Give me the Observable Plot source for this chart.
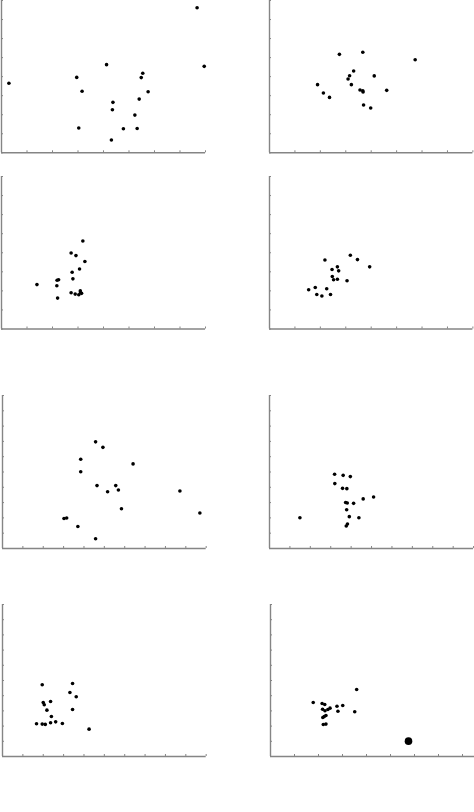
<!DOCTYPE html>
<html>
<head>
<meta charset="utf-8">
<script src="https://cdn.jsdelivr.net/npm/d3@7"></script>
<script src="https://cdn.jsdelivr.net/npm/@observablehq/plot@0.6"></script>
<style>
  html, body { margin: 0; padding: 0; background: #fff; }
  #chart { position: relative; width: 474px; height: 812px; overflow: hidden; background: #fff; }
  #chart svg { position: absolute; overflow: visible; }
</style>
</head>
<body>
<div id="chart"></div>
<script>
// ---- Data (x, y pairs per panel, arbitrary units) ----
const panel1 = [[7.67,7.62],[0.29,3.65],[4.12,4.63],[7.95,4.54],[2.95,3.96],[5.54,4.18],[5.48,3.95],[3.16,3.23],[5.75,3.21],[5.40,2.82],[4.37,2.65],[4.35,2.26],[5.23,1.98],[3.03,1.30],[4.78,1.26],[5.32,1.28],[4.31,0.67]];
const panel2 = [[2.75,5.17],[3.67,5.28],[5.73,4.89],[3.31,4.30],[3.15,4.05],[3.09,3.88],[4.12,4.04],[1.89,3.58],[3.22,3.58],[2.12,3.14],[2.36,2.91],[3.56,3.30],[3.67,3.26],[3.68,3.19],[4.61,3.28],[3.70,2.51],[3.98,2.35]];
const panel3 = [[3.19,4.62],[2.73,3.99],[2.92,3.85],[3.27,3.54],[2.77,2.98],[3.06,3.15],[2.80,2.63],[1.39,2.33],[2.18,2.56],[2.24,2.58],[2.17,2.27],[2.20,1.62],[2.73,1.90],[2.89,1.83],[3.03,1.80],[3.09,2.00],[3.10,1.90],[3.14,1.87]];
const panel4 = [[2.18,3.62],[3.18,3.87],[3.46,3.64],[3.94,3.26],[2.67,3.26],[2.46,3.12],[2.72,3.05],[2.47,2.75],[2.52,2.58],[2.67,2.61],[3.05,2.53],[1.54,2.06],[1.80,2.18],[2.25,2.11],[1.86,1.81],[2.06,1.73],[2.40,1.81]];
const panel5 = [[4.57,6.97],[4.93,6.61],[3.84,5.83],[6.41,5.53],[3.84,5.02],[4.64,4.11],[5.56,4.11],[5.16,3.71],[5.69,3.82],[8.71,3.76],[5.84,2.60],[9.69,2.32],[3.02,1.96],[3.15,1.99],[3.70,1.44],[4.57,0.64]];
const panel6 = [[3.19,4.85],[3.61,4.78],[3.96,4.70],[3.20,4.24],[3.58,3.93],[3.79,3.91],[3.73,3.01],[3.81,2.97],[4.12,2.95],[4.59,3.24],[5.10,3.37],[3.78,2.53],[3.91,2.08],[4.38,2.01],[1.49,2.01],[3.82,1.60],[3.76,1.47]];
const panel7 = [[1.95,4.72],[3.44,4.80],[3.31,4.21],[3.62,3.93],[2.00,3.55],[2.05,3.40],[2.36,3.62],[2.18,3.05],[3.44,3.09],[2.40,2.63],[1.67,2.15],[1.95,2.13],[2.10,2.11],[2.36,2.22],[2.61,2.28],[2.94,2.17],[4.25,1.80]];
const panel8 = [[1.78,3.55],[2.15,3.49],[2.26,3.42],[2.77,3.31],[3.01,3.36],[3.59,4.41],[2.17,3.11],[2.27,3.01],[2.39,3.09],[2.48,3.18],[2.81,2.98],[3.51,2.94],[2.18,2.57],[2.24,2.63],[2.31,2.70],[2.20,2.11],[2.31,2.13]];
const panel8Highlight = [[5.75,1.01]];

// ---- Axis domains and tick values ----
const ticks8 = [0,1,2,3,4,5,6,7,8];
const ticks10 = [0,1,2,3,4,5,6,7,8,9,10];
const domain8 = [0, 8];
const domain10 = [0, 10];
const domain8half = [0, 8.5];

const chart = document.getElementById("chart");

function panel(data, frame, xDomain, yDomain, xTicks, yTicks, highlight) {
  const m = 6;
  const {L, R, T, B} = frame;
  const marks = [
    Plot.ruleY([yDomain[0]], {stroke: "#858585", strokeWidth: 1.4}),
    Plot.ruleX([xDomain[0]], {stroke: "#858585", strokeWidth: 1.4}),
    Plot.axisX(xTicks, {anchor: "bottom", tickSize: 2, dy: -2, tickFormat: () => "", label: null, stroke: "#858585"}),
    Plot.axisY(yTicks, {anchor: "left", tickSize: 2, dx: 2, tickFormat: () => "", label: null, stroke: "#858585"}),
    Plot.dot(data, {x: d => d[0], y: d => d[1], r: 1.8, fill: "#000", stroke: "none"})
  ];
  if (highlight) {
    marks.push(Plot.dot(highlight, {x: d => d[0], y: d => d[1], r: 3.8, fill: "#000", stroke: "none"}));
  }
  const svg = Plot.plot({
    width: R - L + 2 * m,
    height: B - T + 2 * m,
    marginLeft: m, marginRight: m, marginTop: m, marginBottom: m,
    x: {domain: xDomain},
    y: {domain: yDomain},
    marks
  });
  svg.style.left = (L - m) + "px";
  svg.style.top = (T - m) + "px";
  chart.appendChild(svg);
}

panel(panel1, {L: 0.7, R: 204.7, T: 0, B: 152.3}, domain8, domain8, ticks8, ticks8);
panel(panel2, {L: 268.9, R: 472.3, T: 0, B: 152.3}, domain8, domain8, ticks8, ticks8);
panel(panel3, {L: 0.7, R: 204.7, T: 175.5, B: 328}, domain8, domain8, ticks8, ticks8);
panel(panel4, {L: 268.9, R: 472.3, T: 175.5, B: 328}, domain8, domain8, ticks8, ticks8);
panel(panel5, {L: 1.6, R: 205.3, T: 395, B: 548}, domain10, domain10, ticks10, ticks10);
panel(panel6, {L: 269.3, R: 473.4, T: 395, B: 548}, domain10, domain10, ticks10, ticks10);
panel(panel7, {L: 1.6, R: 205.3, T: 604, B: 756}, domain10, domain10, ticks10, ticks10);
panel(panel8, {L: 269.6, R: 473.6, T: 604, B: 756}, domain8half, domain10, ticks8.slice(1), ticks10, panel8Highlight);
</script>
</body>
</html>
